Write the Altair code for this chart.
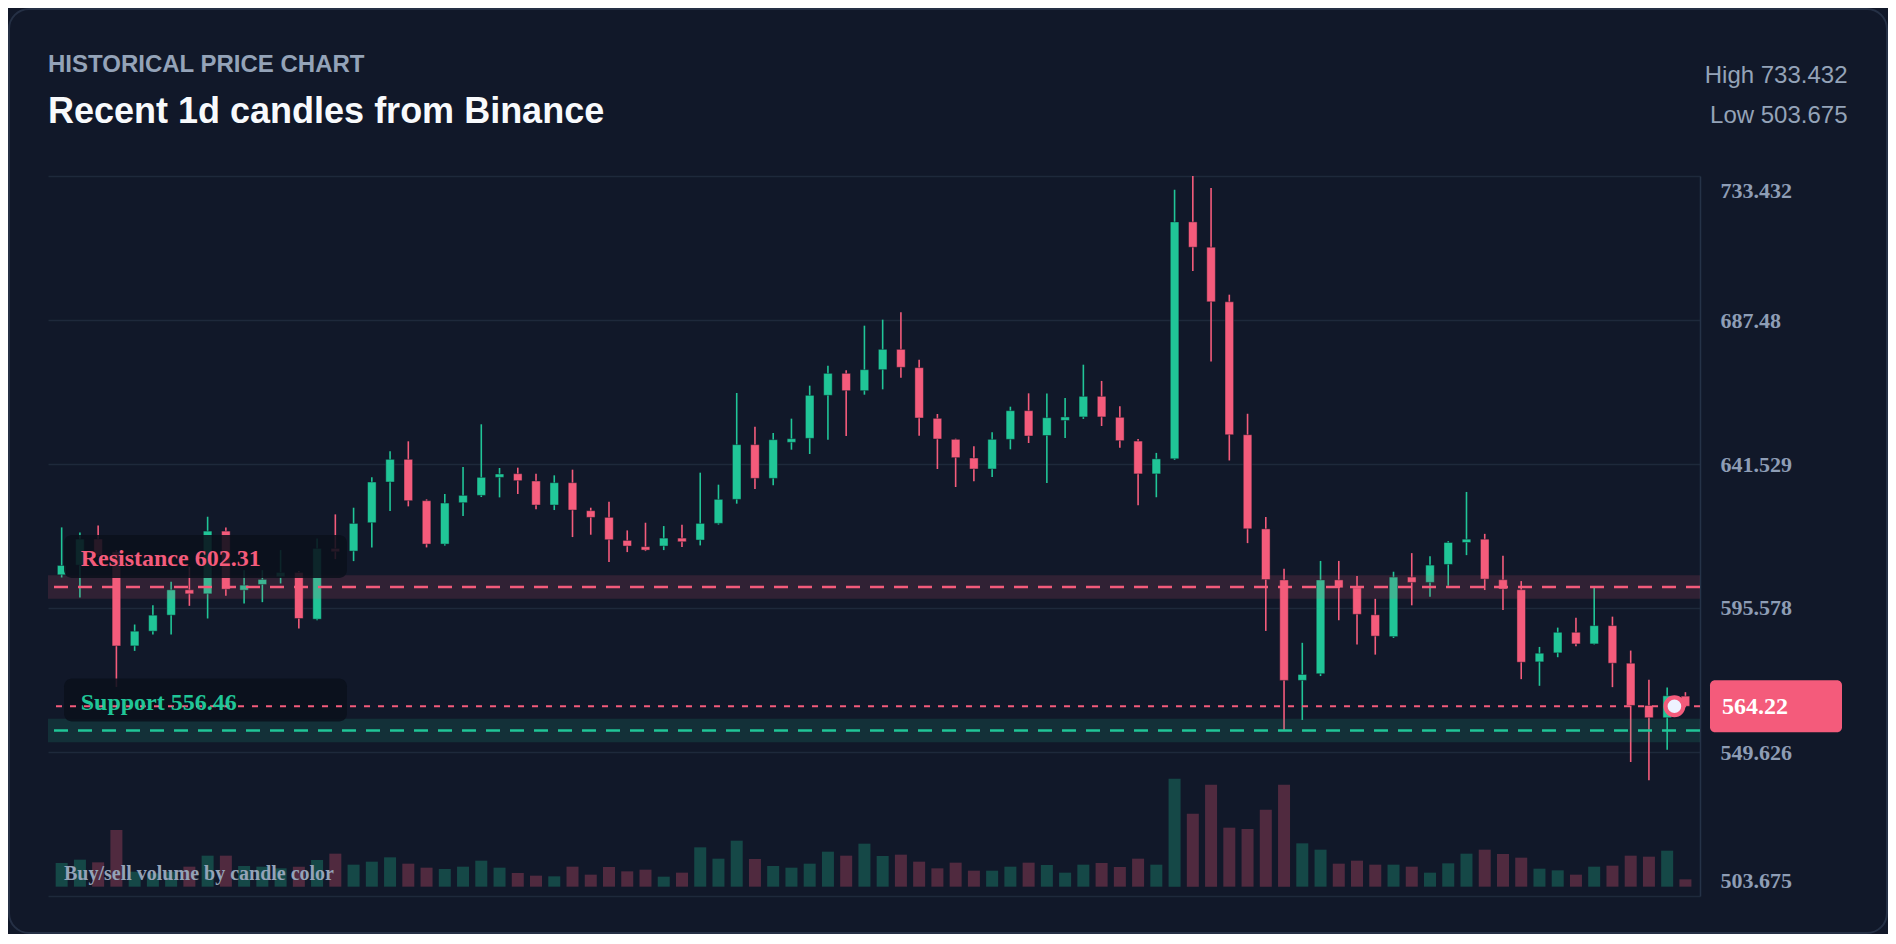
import altair as alt
import pandas as pd

# ---------------- data ----------------
OPEN = [606.17, 609.26, 617.57, 613.52, 583.49, 588.18, 593.29, 601.38, 600.10, 620.12,
        601.27, 603.09, 605.54, 606.92, 592.01, 614.59, 613.74, 622.79, 635.78, 643.02,
        629.82, 615.98, 629.18, 631.52, 637.27, 638.44, 636.10, 628.44, 635.57, 626.63,
        624.50, 617.15, 615.13, 615.34, 617.89, 617.26, 622.59, 630.25, 647.70, 636.95,
        648.44, 649.72, 663.44, 670.46, 664.93, 671.63, 678.12, 672.27, 656.10, 649.40,
        643.44, 639.93, 649.40, 658.55, 650.62, 655.42, 656.55, 663.12, 656.43, 648.85,
        638.37, 643.17, 718.79, 710.71, 693.29, 650.87, 620.83, 604.54, 572.48, 574.62,
        604.54, 602.01, 593.40, 586.45, 605.45, 603.75, 609.48, 616.48, 617.54, 604.60,
        601.41, 578.39, 581.26, 587.83, 584.12, 589.95, 577.96, 564.48, 560.56, 567.46]
HIGH = [621.30, 619.70, 621.94, 614.06, 590.31, 596.49, 603.94, 608.73, 624.70, 621.30,
        607.66, 607.66, 614.06, 607.35, 617.78, 625.45, 627.58, 637.27, 645.57, 648.77,
        630.24, 631.95, 640.57, 654.20, 640.25, 640.36, 638.44, 637.91, 639.72, 627.58,
        629.50, 620.34, 622.79, 621.73, 622.15, 638.76, 634.93, 664.19, 653.44, 651.42,
        656.00, 666.53, 672.91, 671.42, 685.67, 687.59, 689.93, 674.82, 657.48, 649.61,
        647.17, 651.63, 659.82, 664.08, 663.99, 662.61, 673.22, 668.04, 659.96, 649.48,
        645.07, 729.01, 733.43, 729.64, 695.56, 657.56, 624.61, 608.08, 584.47, 610.60,
        610.60, 605.80, 598.50, 607.15, 613.09, 612.13, 616.91, 632.61, 619.24, 612.24,
        604.17, 583.16, 589.32, 592.50, 602.16, 592.82, 581.99, 572.66, 570.22, 568.72]
LOW = [605.32, 598.93, 611.93, 570.39, 581.89, 587.11, 587.11, 596.27, 592.23, 599.46,
       597.02, 597.44, 603.41, 589.03, 591.69, 611.18, 610.54, 614.91, 626.52, 628.01,
       614.91, 615.50, 624.92, 630.99, 630.88, 631.95, 627.05, 626.84, 618.21, 618.96,
       610.23, 613.42, 613.74, 614.06, 615.02, 615.55, 622.20, 628.87, 633.55, 634.72,
       646.10, 644.72, 649.29, 650.46, 663.65, 665.35, 669.08, 650.57, 639.93, 634.19,
       635.99, 637.38, 646.21, 648.23, 635.47, 649.86, 655.92, 653.65, 646.70, 628.40,
       630.92, 642.79, 703.13, 674.23, 642.66, 616.28, 588.26, 556.57, 559.85, 573.86,
       591.67, 583.96, 580.70, 586.00, 596.43, 599.19, 602.69, 612.45, 601.31, 594.94,
       572.87, 570.75, 579.87, 583.38, 583.90, 570.32, 546.44, 540.61, 550.37, 564.00]
CLOSE = [609.16, 617.57, 612.46, 583.49, 588.18, 593.29, 601.38, 600.10, 620.12, 601.59,
         602.87, 604.69, 606.92, 592.23, 614.59, 613.52, 622.57, 635.78, 643.02, 629.82,
         615.98, 629.07, 631.52, 637.27, 638.34, 636.21, 628.44, 635.57, 626.84, 624.50,
         617.36, 615.34, 614.06, 617.89, 616.72, 622.58, 630.25, 647.70, 636.95, 649.29,
         649.61, 663.44, 670.46, 664.93, 671.63, 678.12, 672.38, 656.21, 649.51, 643.55,
         639.93, 649.40, 658.55, 650.46, 656.30, 656.55, 663.12, 656.55, 648.98, 638.37,
         643.17, 718.79, 710.71, 693.29, 650.87, 620.83, 604.67, 572.48, 574.37, 604.54,
         602.01, 593.56, 586.60, 605.45, 603.75, 609.27, 616.48, 617.54, 604.81, 601.63,
         578.28, 581.15, 587.83, 584.12, 589.95, 577.96, 564.48, 560.56, 567.56, 564.22]
VOLUME = [71, 81, 73, 170, 45, 40, 45, 60, 93, 93,
          62, 60, 55, 60, 80, 99, 66, 75, 88, 69,
          57, 53, 60, 78, 57, 41, 33, 31, 60, 36,
          59, 46, 51, 30, 42, 118, 84, 138, 83, 62,
          57, 69, 105, 93, 129, 92, 96, 75, 55, 72,
          48, 48, 60, 72, 65, 42, 66, 71, 59, 84,
          66, 324, 219, 306, 177, 173, 231, 306, 130, 111,
          69, 78, 66, 66, 60, 42, 70, 99, 111, 98,
          87, 54, 49, 36, 60, 63, 93, 90, 108, 22]
Y_TICKS = [733.432, 687.48, 641.529, 595.578, 549.626, 503.675]
PRICE_HIGH = 733.432
PRICE_LOW = 503.675
RESISTANCE = 602.31
SUPPORT = 556.46
BAND_HALF = 3.75
CURRENT = 564.22

SUPTITLE = "HISTORICAL PRICE CHART"
TITLE = "Recent 1d candles from Binance"
VOL_NOTE = "Buy/sell volume by candle color"

# ---------------- styles ----------------
BG = "#111829"
GREEN = "#20c597"
RED = "#f45b7b"
MUTED = "#94a3b8"
GRID = "#1e293b"
SERIF = "Liberation Serif"
SANS = "Liberation Sans"

n = len(OPEN)
df = pd.DataFrame({"i": list(range(1, n + 1)), "open": OPEN, "high": HIGH,
                   "low": LOW, "close": CLOSE, "vol": VOLUME})
df["dir"] = ["up" if c >= o else "down" for o, c in zip(OPEN, CLOSE)]

X = alt.X("i:Q", scale=alt.Scale(domain=[0.525, n + 0.525], nice=False, zero=False), axis=None)
COLOR = alt.Color("dir:N", scale=alt.Scale(domain=["up", "down"], range=[GREEN, RED]), legend=None)
yscale = alt.Scale(domain=[PRICE_LOW, PRICE_HIGH], nice=False, zero=False)
yaxis = alt.Axis(orient="right", values=Y_TICKS, format=".3~f", title=None, ticks=False,
                 tickSize=0, labelPadding=20, labelFlush=True, labelFlushOffset=-4,
                 grid=True, gridColor=GRID, gridWidth=1.3, domainColor="#253247",
                 domainWidth=1.5, labelFont=SERIF, labelFontSize=22, labelFontWeight="bold",
                 labelColor="#8e9db5")


def Y(field):
    return alt.Y(f"{field}:Q", scale=yscale, axis=yaxis)


base = alt.Chart(df)

volume = base.mark_bar(size=12, opacity=0.28).encode(
    x=X,
    y=alt.Y("vol:Q", scale=alt.Scale(domain=[-28, 2132], nice=False, zero=False), axis=None),
    y2=alt.datum(0),
    color=COLOR,
)

wicks = base.mark_rule(strokeWidth=1.6).encode(x=X, y=Y("low"), y2="high:Q", color=COLOR)
bodies = base.mark_bar(size=8.6, stroke="#0f1726", strokeOpacity=0.45, strokeWidth=1).encode(
    x=X, y=Y("open"), y2="close:Q", color=COLOR)


def level_layers(name, price, color):
    d = pd.DataFrame({"price": [price], "lo": [price - BAND_HALF], "hi": [price + BAND_HALF],
                      "label": [f"{name} {price:.2f}"]})
    c = alt.Chart(d)
    band = c.mark_rect(color=color, opacity=0.14).encode(
        x=alt.value(0), x2=alt.value("width"), y=Y("lo"), y2="hi:Q")
    line = c.mark_rule(color=color, strokeWidth=2.5, strokeDash=[14, 10]).encode(y=Y("price"))
    box = c.mark_rect(color="#0a101b", opacity=0.88, cornerRadius=8, yOffset=-52, y2Offset=-9).encode(
        x=alt.value(16), x2=alt.value(299), y=Y("price"), y2="price:Q")
    text = c.mark_text(align="left", baseline="alphabetic", dy=-21, font=SERIF, fontSize=24,
                       fontWeight="bold", color=color).encode(
        x=alt.value(32.7), y=Y("price"), text="label:N")
    return [band, line, box], [text]


r_shapes, r_text = level_layers("Resistance", RESISTANCE, RED)
s_shapes, s_text = level_layers("Support", SUPPORT, GREEN)

cur = pd.DataFrame({"i": [n], "price": [CURRENT], "label": [f"{CURRENT:.2f}"]})
cc = alt.Chart(cur)
cur_line = cc.mark_rule(color=RED, strokeWidth=2, strokeDash=[6, 8]).encode(y=Y("price"))
cur_dot = cc.mark_circle(size=317, fill="#eef2ff", stroke=RED, strokeWidth=4.2, opacity=1,
                         fillOpacity=1, xOffset=-11).encode(x=X, y=Y("price"))
tag = cc.mark_rect(color=RED, cornerRadius=5, yOffset=-26, y2Offset=26).encode(
    x=alt.value(1662), x2=alt.value(1794), y=Y("price"), y2="price:Q")
tag_text = cc.mark_text(align="left", baseline="alphabetic", dy=7.6, font=SERIF, fontSize=24,
                        fontWeight="bold", color="#ffffff").encode(
    x=alt.value(1674), y=Y("price"), text="label:N")

price = alt.layer(wicks, bodies, *r_shapes, *s_shapes, cur_line, *r_text, *s_text,
                  cur_dot, tag, tag_text)


def text_layer(txt, x, y, size, weight, color, font, align="left"):
    return alt.Chart(pd.DataFrame({"t": [txt]})).mark_text(
        align=align, baseline="alphabetic", font=font, fontSize=size,
        fontWeight=weight, color=color).encode(x=alt.value(x), y=alt.value(y), text="t:N")


headers = [
    text_layer(SUPTITLE, 0, -104.3, 24, "bold", MUTED, SANS),
    text_layer(TITLE, 0, -52.7, 36, "bold", "#f8fafc", SANS),
    text_layer(f"High {PRICE_HIGH:.3f}", 1799.5, -92.7, 24, "normal", MUTED, SANS, "right"),
    text_layer(f"Low {PRICE_LOW:.3f}", 1799.5, -52.7, 24, "normal", MUTED, SANS, "right"),
    text_layer(VOL_NOTE, 16, 704, 20, "bold", MUTED, SERIF),
]

card = alt.Chart(pd.DataFrame({"t": [""]})).mark_rect(
    fillOpacity=0, stroke="#253045", strokeWidth=2, cornerRadius=20).encode(
    x=alt.value(-39), x2=alt.value(1839), y=alt.value(-167), y2=alt.value(757))

chart = alt.layer(volume, price, *headers, card).resolve_scale(y="independent").properties(
    width=1652, height=720,
    padding={"left": 40, "top": 168, "right": 188, "bottom": 38},
    autosize=alt.AutoSizeParams(type="none"),
    background=BG,
).configure_view(stroke=None)

chart.save("out.html", embed_options={"renderer": "svg", "actions": False})
